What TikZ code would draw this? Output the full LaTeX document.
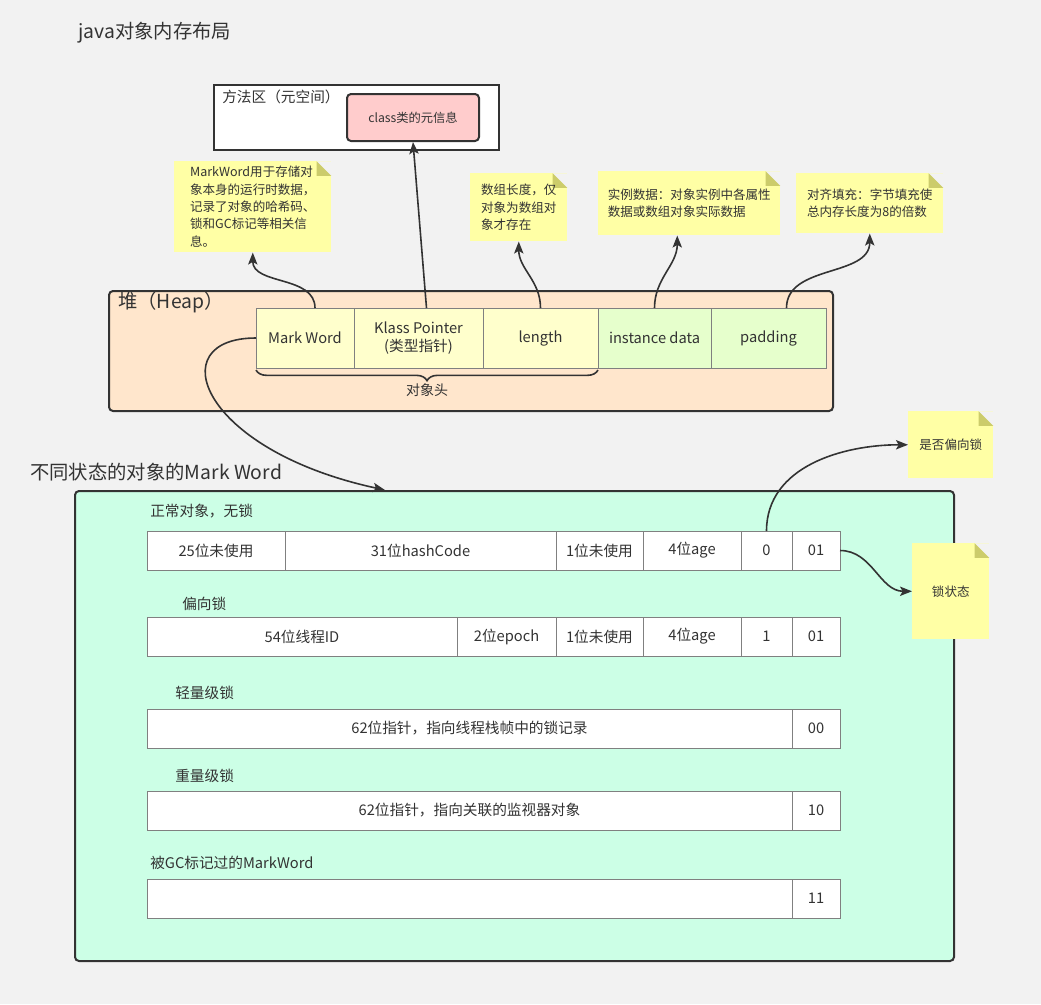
\documentclass[tikz,border=0pt]{standalone}
\usepackage{fontspec}
\setmainfont{Noto Sans CJK SC}
\usepackage{tikz}
\usetikzlibrary {arrows.meta,
                 calc,
                 positioning,
                 decorations.pathreplacing}
\definecolor{bggray}{HTML}{F2F2F2}
\definecolor{ink}{HTML}{333333}
\definecolor{cellline}{HTML}{808080}
\definecolor{noteyellow}{HTML}{FFFFA5}
\definecolor{notefold}{HTML}{CCCC6B}
\definecolor{heapfill}{HTML}{FFE6CC}
\definecolor{metafill}{HTML}{FFCCCC}
\definecolor{headfill}{HTML}{FFFFCC}
\definecolor{datafill}{HTML}{E6FFCC}
\definecolor{statefill}{HTML}{CCFFE6}
\tikzset{
        wd/.style={minimum width=#1*0.75pt},
        ht/.style={minimum height=#1*0.75pt},
        area/.style={draw=ink, line width=1.5pt, rounded corners=3pt,
                     anchor=north west, inner sep=0pt},
        field/.style={draw=cellline, line width=0.75pt, outer sep=0pt,
                      fill=headfill, ht=60, inner sep=1pt, align=center,
                      font=\fontsize{11}{13}\selectfont},
        cell/.style={draw=cellline, line width=0.75pt, outer sep=0pt,
                     fill=white, ht=39, inner sep=0pt,
                     font=\fontsize{11}{12}\selectfont},
        note/.style={fill=noteyellow, anchor=north west, inner sep=0pt,
                     align=left, font=\fontsize{9.4}{13}\selectfont,
                     path picture={
                       \fill[bggray] ([xshift=-11pt]path picture bounding box.north east)
                         -- (path picture bounding box.north east)
                         -- ([yshift=-11pt]path picture bounding box.north east) -- cycle;
                       \fill[notefold] ([xshift=-11pt]path picture bounding box.north east)
                         -- ([yshift=-11pt]path picture bounding box.north east)
                         -- ([xshift=-11pt,yshift=-11pt]path picture bounding box.north east) -- cycle;
                     }},
        lbl/.style={anchor=west, inner sep=0pt, font=\fontsize{11}{12}\selectfont},
        bigtitle/.style={anchor=west, inner sep=0pt, font=\fontsize{14.5}{16}\selectfont},
        myarrow/.style={-{Stealth[length=9pt, width=7pt, inset=2pt]}, draw=ink,
                        line width=1.2pt},
 }

\begin{document}
\begin{tikzpicture}[x=0.75pt, y=-0.75pt, every node/.append style={text=ink}]
    \fill[bggray] (0,0) rectangle (1041,1004);
    \useasboundingbox (0,0) rectangle (1041,1004);

    \node[bigtitle] (title) at (78,33) {java对象内存布局};

    % method area
    \node[area, rounded corners=0pt, fill=white, wd=285, ht=65] (metharea) at (213,84) {};
    \node[lbl] (methlbl) at (222,97) {方法区（元空间）};
    \node[area, fill=metafill, wd=132, ht=47, anchor=north west,
          font=\fontsize{9.2}{11}\selectfont] (meta) at (346,93) {class类的元信息};

    % notes
    \node[note, wd=157, ht=91] (note1) at (174,161) {MarkWord用于存储对\\象本身的运行时数据，\\记录了对象的哈希码、\\锁和GC标记等相关信\\息。};
    \node[note, wd=97, ht=68] (note2) at (470,173) {数组长度，仅\\对象为数组对\\象才存在};
    \node[note, wd=182, ht=64] (note3) at (598,171) {实例数据：对象实例中各属性\\数据或数组对象实际数据};
    \node[note, wd=147, ht=60] (note4) at (796,173) {对齐填充：字节填充使\\总内存长度为8的倍数};

    % heap
    \node[area, fill=heapfill, wd=724, ht=120] (heap) at (108,290) {};
    \node[bigtitle] (heaplbl) at (118,302) {堆（Heap）};
    \node[field, wd=98, anchor=north west] (mw) at (256,308) {Mark Word};
    \node[field, wd=129, right=0pt of mw] (kp) {Klass Pointer\\(类型指针)};
    \node[field, wd=115, right=0pt of kp] (ln) {length};
    \node[field, fill=datafill, wd=113, right=0pt of ln] (inst) {instance data};
    \node[field, fill=datafill, wd=115, right=0pt of inst] (pad) {padding};

    \draw[ink, line width=1.2pt, decorate, decoration={brace, mirror, amplitude=8pt}]
        ([yshift=-1.5pt]mw.south west) -- ([yshift=-1.5pt]ln.south east)
        node[midway, below=10pt, inner sep=0pt, font=\fontsize{10.5}{12}\selectfont] (hdr) {对象头};

    % mark word states
    \node[bigtitle] (mwtitle) at (30,472) {不同状态的对象的Mark Word};
    \node[area, fill=statefill, wd=879, ht=470] (states) at (74,490) {};
    \coordinate (mwin) at (385,490);

    \node[lbl] (l1) at (150,511) {正常对象，无锁};
    \node[cell, wd=138, anchor=north west] (r1a) at (147,531) {25位未使用};
    \node[cell, wd=271, right=0pt of r1a] (r1b) {31位hashCode};
    \node[cell, wd=87, right=0pt of r1b] (r1c) {1位未使用};
    \node[cell, wd=98, right=0pt of r1c] (r1d) {4位age};
    \node[cell, wd=51, right=0pt of r1d] (r1e) {0};
    \node[cell, wd=48, right=0pt of r1e] (r1f) {01};

    \node[lbl] (l2) at (182,604) {偏向锁};
    \node[cell, wd=310, anchor=north west] (r2a) at (147,617) {54位线程ID};
    \node[cell, wd=99, right=0pt of r2a] (r2b) {2位epoch};
    \node[cell, wd=87, right=0pt of r2b] (r2c) {1位未使用};
    \node[cell, wd=98, right=0pt of r2c] (r2d) {4位age};
    \node[cell, wd=51, right=0pt of r2d] (r2e) {1};
    \node[cell, wd=48, right=0pt of r2e] (r2f) {01};

    \node[lbl] (l3) at (175,693) {轻量级锁};
    \node[cell, wd=645, anchor=north west] (r3a) at (147,709) {62位指针，指向线程栈帧中的锁记录};
    \node[cell, wd=48, right=0pt of r3a] (r3b) {00};

    \node[lbl] (l4) at (175,776) {重量级锁};
    \node[cell, wd=645, anchor=north west] (r4a) at (147,791) {62位指针，指向关联的监视器对象};
    \node[cell, wd=48, right=0pt of r4a] (r4b) {10};

    \node[lbl] (l5) at (150,863) {被GC标记过的MarkWord};
    \node[cell, wd=645, anchor=north west] (r5a) at (147,879) {};
    \node[cell, wd=48, right=0pt of r5a] (r5b) {11};

    \node[note, wd=85, ht=67, align=center] (note5) at (908,411) {是否偏向锁};
    \node[note, wd=77, ht=96, align=center] (note6) at (912,543) {锁状态};

    % connectors
    \draw[myarrow] ($(mw.north)+(10,0)$) to[out=90, in=-90] (note1.south);
    \draw[myarrow] ($(kp.north)+(8,0)$) -- (meta.south);
    \draw[myarrow] (ln.north) to[out=90, in=-90] (note2.south);
    \draw[myarrow] (inst.north) to[out=90, in=-90] ($(note3.south)+(-12,0)$);
    \draw[myarrow] ($(pad.north)+(18,0)$) to[out=90, in=-90] (note4.south);

    \draw[myarrow] (mw.west) .. controls (160,338) and (200,450) .. (mwin);

    \draw[myarrow] (r1e.north) to[out=90, in=180] (note5.west);
    \draw[myarrow] (r1f.east) to[out=0, in=180] (note6.west);

\end{tikzpicture}
\end{document}
